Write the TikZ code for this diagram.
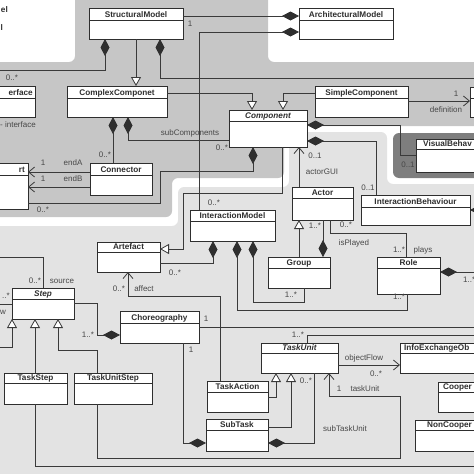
\documentclass[tikz,border=0pt]{standalone}
\usepackage{fontspec}
\setmainfont{Liberation Sans}
\usetikzlibrary{arrows.meta}
\definecolor{pkgmid}{HTML}{C6C6C6}
\definecolor{pkglight}{HTML}{E3E3E3}
\definecolor{pkgdark}{HTML}{7E7E7E}
\definecolor{ink}{HTML}{2E2E2E}
\definecolor{lineink}{HTML}{3A3A3A}
\tikzset{
  clsbox/.style={draw=ink, fill=white, line width=0.9pt, inner sep=0pt, outer sep=0pt},
  clsline/.style={draw=ink, line width=0.9pt},
  ttl/.style={font=\fontsize{8.2}{9}\selectfont\bfseries, text=ink, inner sep=0pt, anchor=base},
  ittl/.style={ttl, font=\fontsize{8.2}{9}\selectfont\bfseries\itshape},
  lbl/.style={font=\fontsize{8}{9}\selectfont, text=black!72, inner sep=0pt},
  conn/.style={draw=lineink, line width=0.8pt},
  comp/.style={conn, -{Diamond[length=17pt,width=9pt,fill=ink,color=ink]}},
  gen/.style={conn, -{Triangle[open,length=9pt,width=10pt,fill=white]}},
  assoc/.style={conn, -{Straight Barb[length=6pt,width=10pt]}},
}
\newcommand{\umlbox}[6]{%
  \node[clsbox, anchor=north west, minimum width={((#4)-(#2))*1pt}, minimum height={((#5)-(#3))*1pt}] (#1) at (#2,#3) {};
  \draw[clsline] (#2,#6) -- (#4,#6);
}
\begin{document}
\begin{tikzpicture}[x=1pt,y=-1pt]
\useasboundingbox (0,0) rectangle (474,474);
% package backgrounds
\fill[pkgmid, rounded corners=6pt] (75,-10) -- (268,-10) -- (268,62) -- (490,62) -- (490,126) -- (284,126) -- (284,178) -- (172,178) -- (172,217) -- (-10,217) -- (-10,62) -- (75,62) -- cycle;
\fill[pkglight, rounded corners=6pt] (-10,226) -- (178,226) -- (178,187) -- (289,187) -- (289,132) -- (387,132) -- (387,184) -- (490,184) -- (490,490) -- (-10,490) -- cycle;
\fill[pkgdark, rounded corners=6pt] (393,133) rectangle (490,178);
\node[ttl, anchor=base east] (lg1) at (8,12) {el};
\node[ttl, anchor=base east] (lg2) at (3,30) {l};

% classes
\umlbox{sm}{89}{8}{183}{39}{20}
\node[ttl] (sm-t) at (136,17) {StructuralModel};
\umlbox{am}{299}{8}{393}{39}{20}
\node[ttl] (am-t) at (346,17) {ArchitecturalModel};
\umlbox{iface}{-30}{86}{35}{117}{98}
\node[ttl, anchor=base east] (iface-t) at (33,95) {erface};
\umlbox{cc}{67}{86}{167}{117}{98}
\node[ttl] (cc-t) at (117,95) {ComplexComponet};
\umlbox{simc}{315}{86}{408}{117}{98}
\node[ttl] (simc-t) at (361.5,95) {SimpleComponent};
\umlbox{defb}{470}{87}{520}{117}{98}
\umlbox{comp}{229}{110}{307}{147}{121}
\node[ittl] (comp-t) at (268,118) {Component};
\umlbox{conn}{90}{163}{152}{195}{175}
\node[ttl] (conn-t) at (121,172) {Connector};
\umlbox{port}{-30}{163}{28}{209}{175}
\node[ttl, anchor=base east] (port-t) at (25,172) {rt};
\umlbox{vb}{416}{139}{520}{172}{149}
\node[ttl, anchor=base west] (vb-t) at (423,146) {VisualBehav};
\umlbox{ib}{361}{195}{470}{225}{207}
\node[ttl] (ib-t) at (415.5,204) {InteractionBehaviour};
\umlbox{actor}{292}{187}{353}{220}{198}
\node[ttl] (actor-t) at (322.5,195) {Actor};
\umlbox{im}{190}{210}{275}{241}{221}
\node[ttl] (im-t) at (232.5,218) {InteractionModel};
\umlbox{art}{97}{242}{160}{272}{252}
\node[ttl] (art-t) at (128.5,249) {Artefact};
\umlbox{grp}{268}{257}{330}{288}{268}
\node[ttl] (grp-t) at (299,265) {Group};
\umlbox{role}{377}{257}{440}{294}{268}
\node[ttl] (role-t) at (408.5,265) {Role};
\umlbox{step}{12}{288}{74}{319}{299}
\node[ittl] (step-t) at (43,296) {Step};
\umlbox{chor}{120}{311}{199}{343}{323}
\node[ttl] (chor-t) at (159.5,320) {Choreography};
\umlbox{ts}{4}{373}{67}{404}{383}
\node[ttl] (ts-t) at (35.5,380.5) {TaskStep};
\umlbox{tus}{74}{373}{152}{404}{383}
\node[ttl] (tus-t) at (113,380.5) {TaskUnitStep};
\umlbox{tu}{261}{343}{338}{373}{353}
\node[ittl] (tu-t) at (299.5,350.5) {TaskUnit};
\umlbox{ieo}{400}{343}{520}{373}{353}
\node[ttl, anchor=base west] (ieo-t) at (404,350.5) {InfoExchangeOb};
\umlbox{ta}{207}{381}{268}{412}{392}
\node[ttl] (ta-t) at (237.5,389.5) {TaskAction};
\umlbox{st}{206}{419}{268}{451}{430}
\node[ttl] (st-t) at (237,427.5) {SubTask};
\umlbox{coop}{438}{382}{520}{412}{392}
\node[ttl, anchor=base west] (coop-t) at (443,389.5) {Cooper};
\umlbox{ncoop}{415}{420}{520}{451}{430}
\node[ttl, anchor=base west] (ncoop-t) at (427,427.5) {NonCooper};

% connectors
\draw[comp] (sm.east |- 0,16) -- (am.west |- 0,16);
\node[lbl] (l1) at (190,24) {1};
\draw[comp] (im.north -| 199,0) |- (am.west |- 0,32);
\node[lbl] (l2) at (214,203) {0..*};
\draw[comp] (-5,70) -| (sm.south -| 105,0);
\node[lbl] (l3) at (12,78) {0..*};
\draw[comp] (490,78) -| (sm.south -| 160,0);
\draw[gen] (sm.south -| 136,0) -- (cc.north -| 136,0);
\draw[gen] (cc.east |- 0,93) -| (comp.north -| 252,0);
\draw[gen] (simc.west |- 0,93) -| (comp.north -| 283,0);
\draw[assoc] (simc.east |- 0,101) -- (defb.west |- 0,101);
\node[lbl] (l4) at (456,94) {1};
\node[lbl] (l5) at (446,110) {definition};
\node[lbl, anchor=west] (l6) at (0,125) {- interface};
\draw[comp] (conn.north -| 113,0) -- (cc.south -| 113,0);
\node[lbl] (l7) at (105,155) {0..*};
\draw[comp] (comp.west |- 0,140) -| (cc.south -| 128,0);
\node[lbl] (l8) at (190,133) {subComponents};
\node[lbl] (l9) at (222,148) {0..*};
\draw[assoc] (conn.west |- 0,172) -- (port.east |- 0,172);
\draw[assoc] (conn.west |- 0,187) -- (port.east |- 0,187);
\node[lbl] (l10) at (43,163) {1};
\node[lbl] (l11) at (73,163) {endA};
\node[lbl] (l12) at (43,179) {1};
\node[lbl] (l13) at (73,179) {endB};
\draw[comp] (port.east |- 0,203) -| (160,171) -| (comp.south -| 253,0);
\node[lbl] (l14) at (43,210) {0..*};
\draw[comp] (vb.west |- 0,155) -| (400,125) -- (comp.east |- 0,125);
\node[lbl] (l15) at (408,165) {0..1};
\draw[comp] (ib.north -| 376,0) |- (comp.east |- 0,141);
\node[lbl] (l16) at (368,188) {0..1};
\draw[assoc] (actor.north -| 299,0) -- (comp.south -| 299,0);
\node[lbl] (l17) at (315,156) {0..1};
\node[lbl] (l18) at (322,172) {actorGUI};
\draw[gen] (comp.south -| 282,0) |- (183,193) |- (art.east |- 0,249);
\draw[gen] (grp.north -| 299,0) -- (actor.south -| 299,0);
\node[lbl] (l19) at (315,226) {1..*};
\draw[comp] (actor.south -| 323,0) -- (grp.north -| 323,0);
\draw[conn] (actor.south -| 330,0) |- (406,233) -- (role.north -| 406,0);
\node[lbl] (l20) at (346,225) {0..*};
\node[lbl] (l21) at (354,243) {isPlayed};
\node[lbl] (l22) at (399,250) {1..*};
\node[lbl] (l23) at (423,250) {plays};
\draw[comp] (grp.south -| 304,0) |- (253,302) -- (im.south -| 253,0);
\node[lbl] (l24) at (291,295) {1..*};
\draw[comp] (role.south -| 407,0) |- (237,310) -- (im.south -| 237,0);
\node[lbl] (l25) at (399,297) {1..*};
\draw[comp] (490,272) -- (role.east |- 0,272);
\node[lbl, anchor=west] (l26) at (463,280) {1..*};
\draw[comp] (490,210) -- (ib.east |- 0,210);
\draw[comp] (art.east |- 0,263) -| (im.south -| 213,0);
\node[lbl] (l27) at (175,273) {0..*};
\draw[assoc] (ta.north -| 220,0) |- (128,296) -- (art.south -| 128,0);
\node[lbl] (l28) at (119,289) {0..*};
\node[lbl] (l29) at (144,289) {affect};
\draw[conn] (-5,257) -| (step.north -| 43,0);
\node[lbl] (l30) at (35,281) {0..*};
\node[lbl] (l31) at (62,281) {source};
\coordinate (stepin) at (-5,304);
\draw[conn] (stepin) -- (step.west |- 0,304);
\node[lbl, anchor=east] (l32) at (10,296) {..*};
\node[lbl, anchor=east] (l33) at (6,312) {w};
\draw[comp] (step.east |- 0,303) -| (97,335) -- (chor.west |- 0,335);
\node[lbl] (l34) at (88,335) {1..*};
\draw[gen] (-5,347) -| (step.south -| 12,0);
\draw[gen] (ts.north -| 35,0) -- (step.south -| 35,0);
\draw[gen] (tus.north -| 97,0) |- (58,350) -- (step.south -| 58,0);
\draw[conn] (ts.south -| 35,0) |- (490,466);
\draw[assoc] (tus.south -| 97,0) |- (400,458) |- (329,396) -- (tu.south -| 329,0);
\node[lbl] (l35) at (339,389) {1};
\node[lbl] (l36) at (365,389) {taskUnit};
\draw[comp] (chor.south -| 183,0) |- (st.west |- 0,443);
\node[lbl] (l37) at (191,350) {1};
\draw[conn] (chor.east |- 0,327) -- (490,327);
\node[lbl] (l38) at (206,319) {1};
\draw[conn] (tu.north -| 307,0) |- (490,335);
\node[lbl] (l39) at (298,335) {1..*};
\draw[gen] (ta.east |- 0,397) -| (tu.south -| 276,0);
\draw[gen] (st.east |- 0,427) -| (tu.south -| 291,0);
\draw[comp] (tu.south -| 314,0) |- (st.east |- 0,443);
\node[lbl] (l40) at (306,381) {0..*};
\node[lbl] (l41) at (345,429) {subTaskUnit};
\draw[assoc] (tu.east |- 0,365) -- (ieo.west |- 0,365);
\node[lbl] (l42) at (364,358) {objectFlow};
\node[lbl] (l43) at (376,374) {0..*};
\end{tikzpicture}
\end{document}
